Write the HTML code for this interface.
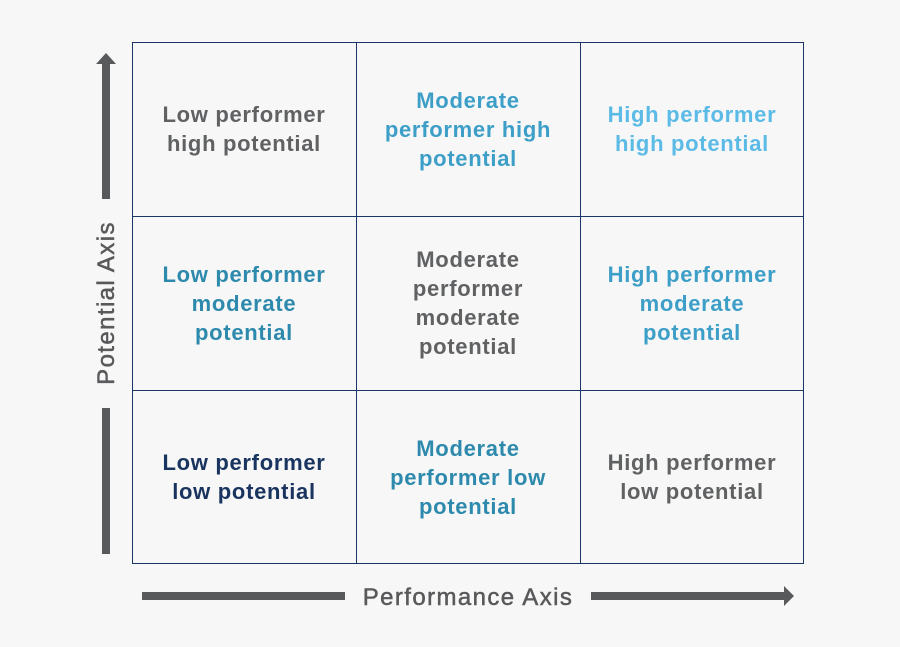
<!DOCTYPE html>
<html><head><style>
html,body{margin:0;padding:0;background:#f7f7f7;}
body{width:900px;height:647px;position:relative;overflow:hidden;font-family:"Liberation Sans",sans-serif;}
.grid{position:absolute;left:132px;top:42px;width:672px;height:522px;border:1px solid #1b3566;box-sizing:border-box;}
.v{position:absolute;top:0;bottom:0;width:1px;background:#1b3566;}
.h{position:absolute;left:0;right:0;height:1px;background:#1b3566;}
.c{position:absolute;width:224px;height:174px;display:flex;align-items:center;justify-content:center;text-align:center;font-size:22px;line-height:29px;letter-spacing:0.7px;font-weight:bold;}
.g{color:#606163}.n{color:#1a3460}.t{color:#2e8aad}.m{color:#3d9fc8}.l{color:#5bbbe6}
</style></head><body>
<div class="grid">
<div class="v" style="left:223px"></div><div class="v" style="left:447px"></div>
<div class="h" style="top:173px"></div><div class="h" style="top:347px"></div>
</div>
<div class="c g" style="left:132px;top:42px">Low performer<br>high potential</div>
<div class="c m" style="left:356px;top:42px">Moderate<br>performer high<br>potential</div>
<div class="c l" style="left:580px;top:42px">High performer<br>high potential</div>
<div class="c t" style="left:132px;top:216px">Low performer<br>moderate<br>potential</div>
<div class="c g" style="left:356px;top:216px">Moderate<br>performer<br>moderate<br>potential</div>
<div class="c m" style="left:580px;top:216px">High performer<br>moderate<br>potential</div>
<div class="c n" style="left:132px;top:390px">Low performer<br>low potential</div>
<div class="c t" style="left:356px;top:390px">Moderate<br>performer low<br>potential</div>
<div class="c g" style="left:580px;top:390px">High performer<br>low potential</div>
<svg width="900" height="647" style="position:absolute;left:0;top:0">
<polygon points="96,64 106,53 116,64" fill="#58595b"/>
<rect x="102" y="63" width="8" height="136" fill="#58595b"/>
<rect x="102" y="408" width="8" height="146" fill="#58595b"/>
<rect x="142" y="592" width="203" height="8" fill="#58595b"/>
<rect x="591" y="592" width="194" height="8" fill="#58595b"/>
<polygon points="784,586 794,596 784,606" fill="#58595b"/>
<text x="468" y="605" text-anchor="middle" font-family="Liberation Sans, sans-serif" font-size="24" fill="#58595b" letter-spacing="1.4" stroke="#58595b" stroke-width="0.5">Performance Axis</text>
<text x="0" y="0" transform="translate(114,303) rotate(-90)" text-anchor="middle" font-family="Liberation Sans, sans-serif" font-size="24" fill="#58595b" letter-spacing="1.4" stroke="#58595b" stroke-width="0.5">Potential Axis</text>
</svg>
</body></html>
